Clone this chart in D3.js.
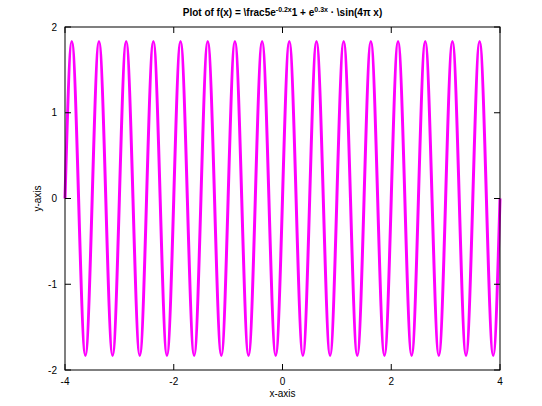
<!DOCTYPE html>
<html>
<head>
<meta charset="utf-8">
<script src="https://cdn.jsdelivr.net/npm/d3@7"></script>
<style>
body { margin: 0; background: #fff; }
text { font-family: "Liberation Sans", Arial, sans-serif; }
</style>
</head>
<body>
<svg id="chart" width="542" height="406"></svg>
<script>
// sample points: every quarter period (0.125 in x)
var xValues = [-4,-3.875,-3.75,-3.625,-3.5,-3.375,-3.25,-3.125,-3,-2.875,-2.75,-2.625,-2.5,-2.375,-2.25,-2.125,
  -2,-1.875,-1.75,-1.625,-1.5,-1.375,-1.25,-1.125,-1,-0.875,-0.75,-0.625,-0.5,-0.375,-0.25,-0.125,
  0,0.125,0.25,0.375,0.5,0.625,0.75,0.875,1,1.125,1.25,1.375,1.5,1.625,1.75,1.875,
  2,2.125,2.25,2.375,2.5,2.625,2.75,2.875,3,3.125,3.25,3.375,3.5,3.625,3.75,3.875,4];
var yValues = [0,1.83,0,-1.83,0,1.83,0,-1.83,0,1.83,0,-1.83,0,1.83,0,-1.83,
  0,1.83,0,-1.83,0,1.83,0,-1.83,0,1.83,0,-1.83,0,1.83,0,-1.83,
  0,1.83,0,-1.83,0,1.83,0,-1.83,0,1.83,0,-1.83,0,1.83,0,-1.83,
  0,1.83,0,-1.83,0,1.83,0,-1.83,0,1.83,0,-1.83,0,1.83,0,-1.83,0];
var xTicks = [-4, -2, 0, 2, 4];
var yTicks = [-2, -1, 0, 1, 2];

var svg = d3.select("#chart");
var pLeft = 65, pRight = 500, pTop = 27, pBottom = 370;
var x = d3.scaleLinear().domain([-4, 4]).range([pLeft, pRight]);
var y = d3.scaleLinear().domain([-2, 2]).range([pBottom, pTop]);

// curve
var pts = xValues.map(function (v, i) { return [v, yValues[i]]; });
svg.append("path").datum(pts)
  .attr("d", d3.line().x(function (d) { return x(d[0]); }).y(function (d) { return y(d[1]); }).curve(d3.curveNatural))
  .attr("fill", "none").attr("stroke", "#ff00ff").attr("stroke-width", 3);

// border
svg.append("rect").attr("x", pLeft).attr("y", pTop)
  .attr("width", pRight - pLeft).attr("height", pBottom - pTop)
  .attr("fill", "none").attr("stroke", "#000").attr("stroke-width", 1);

// ticks (inward, mirrored)
xTicks.forEach(function (t) {
  svg.append("line").attr("x1", x(t)).attr("x2", x(t)).attr("y1", pBottom).attr("y2", pBottom - 6).attr("stroke", "#000");
  svg.append("line").attr("x1", x(t)).attr("x2", x(t)).attr("y1", pTop).attr("y2", pTop + 6).attr("stroke", "#000");
  svg.append("text").attr("x", x(t)).attr("y", pBottom + 15).attr("text-anchor", "middle")
    .attr("font-size", 10).text(t);
});
yTicks.forEach(function (t) {
  svg.append("line").attr("x1", pLeft).attr("x2", pLeft + 6).attr("y1", y(t)).attr("y2", y(t)).attr("stroke", "#000");
  svg.append("line").attr("x1", pRight).attr("x2", pRight - 6).attr("y1", y(t)).attr("y2", y(t)).attr("stroke", "#000");
  svg.append("text").attr("x", pLeft - 8).attr("y", y(t) + 3.5).attr("text-anchor", "end")
    .attr("font-size", 10).text(t);
});

// labels
svg.append("text").attr("x", (pLeft + pRight) / 2).attr("y", 397).attr("text-anchor", "middle")
  .attr("font-size", 10).text("x-axis");
svg.append("text").attr("transform", "translate(41," + ((pTop + pBottom) / 2) + ") rotate(-90)")
  .attr("text-anchor", "middle").attr("font-size", 10).text("y-axis");

var title = svg.append("text").attr("x", (pLeft + pRight) / 2).attr("y", 16)
  .attr("text-anchor", "middle").attr("font-size", 10).attr("font-weight", "bold");
title.append("tspan").text("Plot of f(x) = \\frac5e");
title.append("tspan").attr("dy", -4).attr("font-size", 7).text("-0.2x");
title.append("tspan").attr("dy", 4).text("1 + e");
title.append("tspan").attr("dy", -4).attr("font-size", 7).text("0.3x");
title.append("tspan").attr("dy", 4).text(" \u00b7 \\sin(4\u03c0 x)");
</script>
</body>
</html>
